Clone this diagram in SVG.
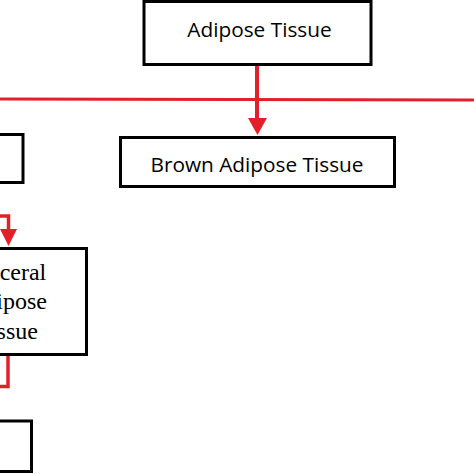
<svg xmlns="http://www.w3.org/2000/svg" width="474" height="474" viewBox="0 0 474 474">
<style>
.box{fill:#fff;stroke:#000;stroke-width:3}
.sans{font-family:"Open Sans","Liberation Sans",sans-serif;font-size:20.8px;fill:#000}
.serif{font-family:"Liberation Serif","Times New Roman",serif;font-size:24px;fill:#000}
.red{stroke:#e3202a;fill:none}
.head{fill:#e3202a}
</style>
<rect width="474" height="474" fill="#fff"/>
<g id="connectors">
<line class="red" x1="0" y1="99" x2="474" y2="100" stroke-width="3"/>
<line class="red" x1="257" y1="66" x2="257" y2="119" stroke-width="4"/>
<polygon class="head" points="248,118 267,118 257.5,135"/>
<polyline class="red" points="0,216 8.5,216 8.5,230" stroke-width="3.5"/>
<polygon class="head" points="0,229 17,229 8.5,246"/>
<polyline class="red" points="8,356 8,386.5 0,386.5" stroke-width="3.5"/>
</g>
<g id="adipose-tissue">
<rect class="box" x="144" y="1.5" width="227" height="63"/>
<text class="sans" x="259.5" y="37" text-anchor="middle">Adipose Tissue</text>
</g>
<g id="brown-adipose-tissue">
<rect class="box" x="120.5" y="137.5" width="274" height="49"/>
<text class="sans" x="257" y="172" text-anchor="middle">Brown Adipose Tissue</text>
</g>
<g id="left-top-box">
<rect class="box" x="-10" y="134.5" width="33" height="48"/>
</g>
<g id="visceral-adipose-tissue">
<rect class="box" x="-10" y="248.5" width="96.5" height="106"/>
<text class="serif" text-anchor="middle"><tspan x="7" y="279.5">Visceral</tspan><tspan x="7" y="309">Adipose</tspan><tspan x="7" y="339">Tissue</tspan></text>
</g>
<g id="left-bottom-box">
<rect class="box" x="-10" y="421" width="41.5" height="50.5"/>
</g>
</svg>
